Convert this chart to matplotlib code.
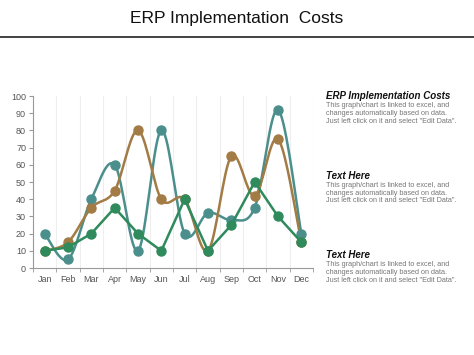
import numpy as np
import matplotlib
matplotlib.use("Agg")
import matplotlib.pyplot as plt

plt.rcParams["font.family"] = ["Liberation Sans", "DejaVu Sans"]

months = ["Jan", "Feb", "Mar", "Apr", "May", "Jun", "Jul", "Aug", "Sep", "Oct", "Nov", "Dec"]
teal = [20, 5, 40, 60, 10, 80, 20, 32, 28, 35, 92, 20]
brown = [10, 15, 35, 45, 80, 40, 40, 10, 65, 42, 75, 15]
green = [10, 12, 20, 35, 20, 10, 40, 10, 25, 50, 30, 15]

C_TEAL = "#4b8f8c"
C_BROWN = "#a27b45"
C_GREEN = "#2f8a5c"


def smooth(y, n=20):
    # Catmull-Rom curve through the points, like Excel's smoothed lines
    y = np.asarray(y, float)
    x = np.arange(len(y), dtype=float)
    px = np.concatenate([[x[0]], x, [x[-1]]])
    py = np.concatenate([[y[0]], y, [y[-1]]])
    xs, ys = [], []
    t = np.linspace(0, 1, n)
    for i in range(1, len(px) - 2):
        for arr, out in ((px, xs), (py, ys)):
            p0, p1, p2, p3 = arr[i - 1], arr[i], arr[i + 1], arr[i + 2]
            out.extend(0.5 * (2 * p1 + (-p0 + p2) * t
                              + (2 * p0 - 5 * p1 + 4 * p2 - p3) * t ** 2
                              + (-p0 + 3 * p1 - 3 * p2 + p3) * t ** 3))
    return np.array(xs), np.array(ys)


fig = plt.figure(figsize=(4.74, 3.55), dpi=100)
fig.text(0.5, 0.948, "ERP Implementation  Costs", ha="center", va="center",
         fontsize=12.5, color="#111111")
fig.add_artist(plt.Line2D([0, 1], [0.895, 0.895], color="#333333", lw=1.3))

ax = fig.add_axes([33 / 474, 1 - 268 / 355, 280 / 474, 172 / 355])
x = np.arange(len(months))
for vals, col in ((teal, C_TEAL), (brown, C_BROWN)):
    sx, sy = smooth(vals)
    ax.plot(sx, sy, color=col, lw=1.8, zorder=3)
    ax.plot(x, vals, "o", color=col, ms=6.5, zorder=4)
ax.plot(x, green, "-o", color=C_GREEN, lw=1.8, ms=6.5, zorder=5)

ax.set_xlim(-0.5, 11.5)
ax.set_ylim(0, 100)
ax.set_yticks(range(0, 101, 10))
ax.set_xticks(x)
ax.set_xticklabels(months)
ax.set_xticks(np.arange(-0.5, 12, 1), minor=True)
ax.tick_params(axis="x", which="major", length=0, labelsize=6.5, labelcolor="#555555", pad=5)
ax.tick_params(axis="x", which="minor", length=3, color="#999999")
ax.tick_params(axis="y", length=3, labelsize=6.5, labelcolor="#555555", color="#999999", pad=2)
ax.grid(axis="x", which="minor", color="#eeeeee", lw=0.8)
for s in ("top", "right"):
    ax.spines[s].set_visible(False)
for s in ("left", "bottom"):
    ax.spines[s].set_color("#999999")
    ax.spines[s].set_linewidth(0.8)

body = ("This graph/chart is linked to excel, and\n"
        "changes automatically based on data.\n"
        "Just left click on it and select \"Edit Data\".")
for head, ytop in (("ERP Implementation Costs", 96), ("Text Here", 176), ("Text Here", 255)):
    fig.text(326 / 474, 1 - ytop / 355, head, ha="left", va="center",
             fontsize=7, fontweight="bold", fontstyle="italic", color="#111111")
    fig.text(326 / 474, 1 - (ytop + 6) / 355, body, ha="left", va="top",
             fontsize=5.2, color="#777777", linespacing=1.15)

fig.savefig("out.png", dpi=100)
